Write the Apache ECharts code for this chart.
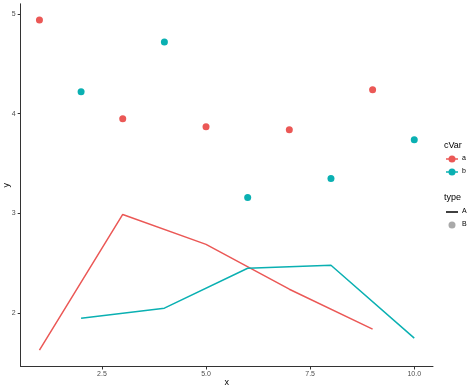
<!DOCTYPE html>
<html>
<head>
<meta charset="utf-8">
<script src="https://cdn.jsdelivr.net/npm/echarts@6/dist/echarts.min.js"></script>
<style>
  html, body { margin: 0; padding: 0; background: #fff; }
  #chart { width: 474px; height: 391px; }
</style>
</head>
<body>
<div id="chart"></div>
<script>
// data
let xA = [1, 3, 5, 7, 9];
let xB = [2, 4, 6, 8, 10];
let pointA = [4.94, 3.95, 3.87, 3.84, 4.24];
let pointB = [4.22, 4.72, 3.16, 3.35, 3.74];
let lineA = [1.63, 2.99, 2.69, 2.24, 1.84];
let lineB = [1.95, 2.05, 2.45, 2.48, 1.75];

let xTicks = [2.5, 5, 7.5, 10];
let yTicks = [2, 3, 4, 5];

let cVarLevels = ['a', 'b'];
let typeLevels = ['A', 'B'];

let colors = { a: '#EB5856', b: '#0AB0B2' };
let font = 'Liberation Sans, Arial, sans-serif';

function pairs(xs, ys) {
    return xs.map((x, i) => [x, ys[i]]);
}

function lineSeries(name, xs, ys) {
    return {
        name: name,
        type: 'line',
        data: pairs(xs, ys),
        symbol: 'none',
        lineStyle: { color: colors[name], width: 1.5 },
        z: 2
    };
}

function pointSeries(name, xs, ys) {
    return {
        name: name,
        type: 'scatter',
        data: pairs(xs, ys),
        symbolSize: 7,
        itemStyle: { color: colors[name], opacity: 1 },
        z: 3
    };
}

// legend drawn as graphic, to look like ggplot's
function legend() {
    let items = [];
    items.push({ type: 'text', left: 444, top: 141, style: { text: 'cVar', font: '9px ' + font, fill: '#000' } });
    cVarLevels.forEach((lv, i) => {
        let cy = 159 + i * 13;
        items.push({ type: 'line', shape: { x1: 446, y1: cy, x2: 458, y2: cy }, style: { stroke: colors[lv], lineWidth: 1.5 } });
        items.push({ type: 'circle', shape: { cx: 452, cy: cy, r: 3.5 }, style: { fill: colors[lv] } });
        items.push({ type: 'text', left: 462, top: cy - 4, style: { text: lv, font: '7px ' + font, fill: '#000' } });
    });
    items.push({ type: 'text', left: 444, top: 193, style: { text: 'type', font: '9px ' + font, fill: '#000' } });
    let ay = 212, by = 225;
    items.push({ type: 'line', shape: { x1: 446, y1: ay, x2: 458, y2: ay }, style: { stroke: '#000', lineWidth: 1.5 } });
    items.push({ type: 'text', left: 462, top: ay - 4, style: { text: typeLevels[0], font: '7px ' + font, fill: '#000' } });
    items.push({ type: 'circle', shape: { cx: 452, cy: by, r: 3.5 }, style: { fill: '#a9a9a9' } });
    items.push({ type: 'text', left: 462, top: by - 4, style: { text: typeLevels[1], font: '7px ' + font, fill: '#000' } });
    return items;
}

let myChart = echarts.init(document.getElementById('chart'));

let option = {
    animation: false,
    grid: { left: 20.7, right: 41, top: 3.8, bottom: 24.5, outerBoundsMode: 'none', containLabel: false },
    xAxis: {
        type: 'value',
        min: 0.55,
        max: 10.45,
        name: 'x',
        nameLocation: 'middle',
        nameGap: 12,
        nameMoveOverlap: false,
        nameTextStyle: { fontSize: 9, fontFamily: font, color: '#000' },
        axisLine: { show: true, lineStyle: { color: '#333', width: 1 } },
        axisTick: { show: true, length: 3, customValues: xTicks, lineStyle: { color: '#333' } },
        axisLabel: {
            customValues: xTicks,
            formatter: v => v.toFixed(1),
            fontSize: 7,
            fontFamily: font,
            color: '#4d4d4d',
            margin: 4
        },
        splitLine: { show: false }
    },
    yAxis: {
        type: 'value',
        min: 1.465,
        max: 5.102,
        name: 'y',
        nameLocation: 'middle',
        nameGap: 10,
        nameMoveOverlap: false,
        nameTextStyle: { fontSize: 9, fontFamily: font, color: '#000' },
        axisLine: { show: true, lineStyle: { color: '#333', width: 1 } },
        axisTick: { show: true, length: 3, customValues: yTicks, lineStyle: { color: '#333' } },
        axisLabel: {
            customValues: yTicks,
            formatter: v => String(v),
            fontSize: 7,
            fontFamily: font,
            color: '#4d4d4d',
            margin: 5
        },
        splitLine: { show: false }
    },
    series: [
        lineSeries('a', xA, lineA),
        lineSeries('b', xB, lineB),
        pointSeries('a', xA, pointA),
        pointSeries('b', xB, pointB)
    ],
    graphic: legend()
};

myChart.setOption(option);
</script>
</body>
</html>
